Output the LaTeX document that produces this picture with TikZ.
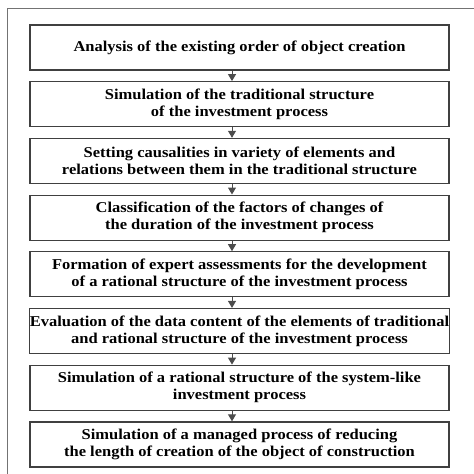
\documentclass[tikz,border=0pt]{standalone}
\usepackage{fontspec}
\setmainfont{Liberation Serif}[FakeStretch=1.1]
\usetikzlibrary{arrows.meta,positioning}

\begin{document}
\begin{tikzpicture}[node distance=56.7pt,
    every node/.style={fill=white}, align=center]
  \tikzset{%
  >={Triangle[width=8pt,length=7pt]},
  % Specifications for style of nodes:
      stage/.style = {rectangle, draw=black!75, line width=1.2pt,
                      minimum width=419pt, minimum height=45pt, inner sep=0pt,
                      font=\bfseries\fontsize{15}{17}\selectfont},
      panel/.style = {draw=black!55, line width=0.8pt},
      link/.style = {->, draw=black!70, line width=1pt},
  }
  \useasboundingbox (0,0) rectangle (474pt,-474pt);
  \clip (0,0) rectangle (474pt,-474pt);

  % outer frame, runs off the page on the right and at the bottom
  \draw[panel] (7pt,-8pt) rectangle (490pt,-490pt);

  % Specification of nodes (position, etc.)
  \node (analysis) [stage] at (239.5pt,-47.5pt) {Analysis of the existing order of object creation};
  \node (tradsim) [stage, below of=analysis] {Simulation of the traditional structure\\of the investment process};
  \node (causal) [stage, below of=tradsim] {Setting causalities in variety of elements and\\relations between them in the traditional structure};
  \node (classif) [stage, below of=causal] {Classification of the factors of changes of\\the duration of the investment process};
  \node (expert) [stage, below of=classif] {Formation of expert assessments for the development\\of a rational structure of the investment process};
  \node (evalu) [stage, below of=expert] {Evaluation of the data content of the elements of traditional\\and rational structure of the investment process};
  \node (ratsim) [stage, below of=evalu] {Simulation of a rational structure of the system-like\\investment process};
  \node (mansim) [stage, below of=ratsim] {Simulation of a managed process of reducing\\the length of creation of the object of construction};

  % lines between nodes
  \draw[link] ([xshift=-7.5pt]analysis.south) -- ([xshift=-7.5pt]tradsim.north);
  \draw[link] ([xshift=-7.5pt]tradsim.south) -- ([xshift=-7.5pt]causal.north);
  \draw[link] ([xshift=-7.5pt]causal.south) -- ([xshift=-7.5pt]classif.north);
  \draw[link] ([xshift=-7.5pt]classif.south) -- ([xshift=-7.5pt]expert.north);
  \draw[link] ([xshift=-7.5pt]expert.south) -- ([xshift=-7.5pt]evalu.north);
  \draw[link] ([xshift=-7.5pt]evalu.south) -- ([xshift=-7.5pt]ratsim.north);
  \draw[link] ([xshift=-7.5pt]ratsim.south) -- ([xshift=-7.5pt]mansim.north);

\end{tikzpicture}
\end{document}
